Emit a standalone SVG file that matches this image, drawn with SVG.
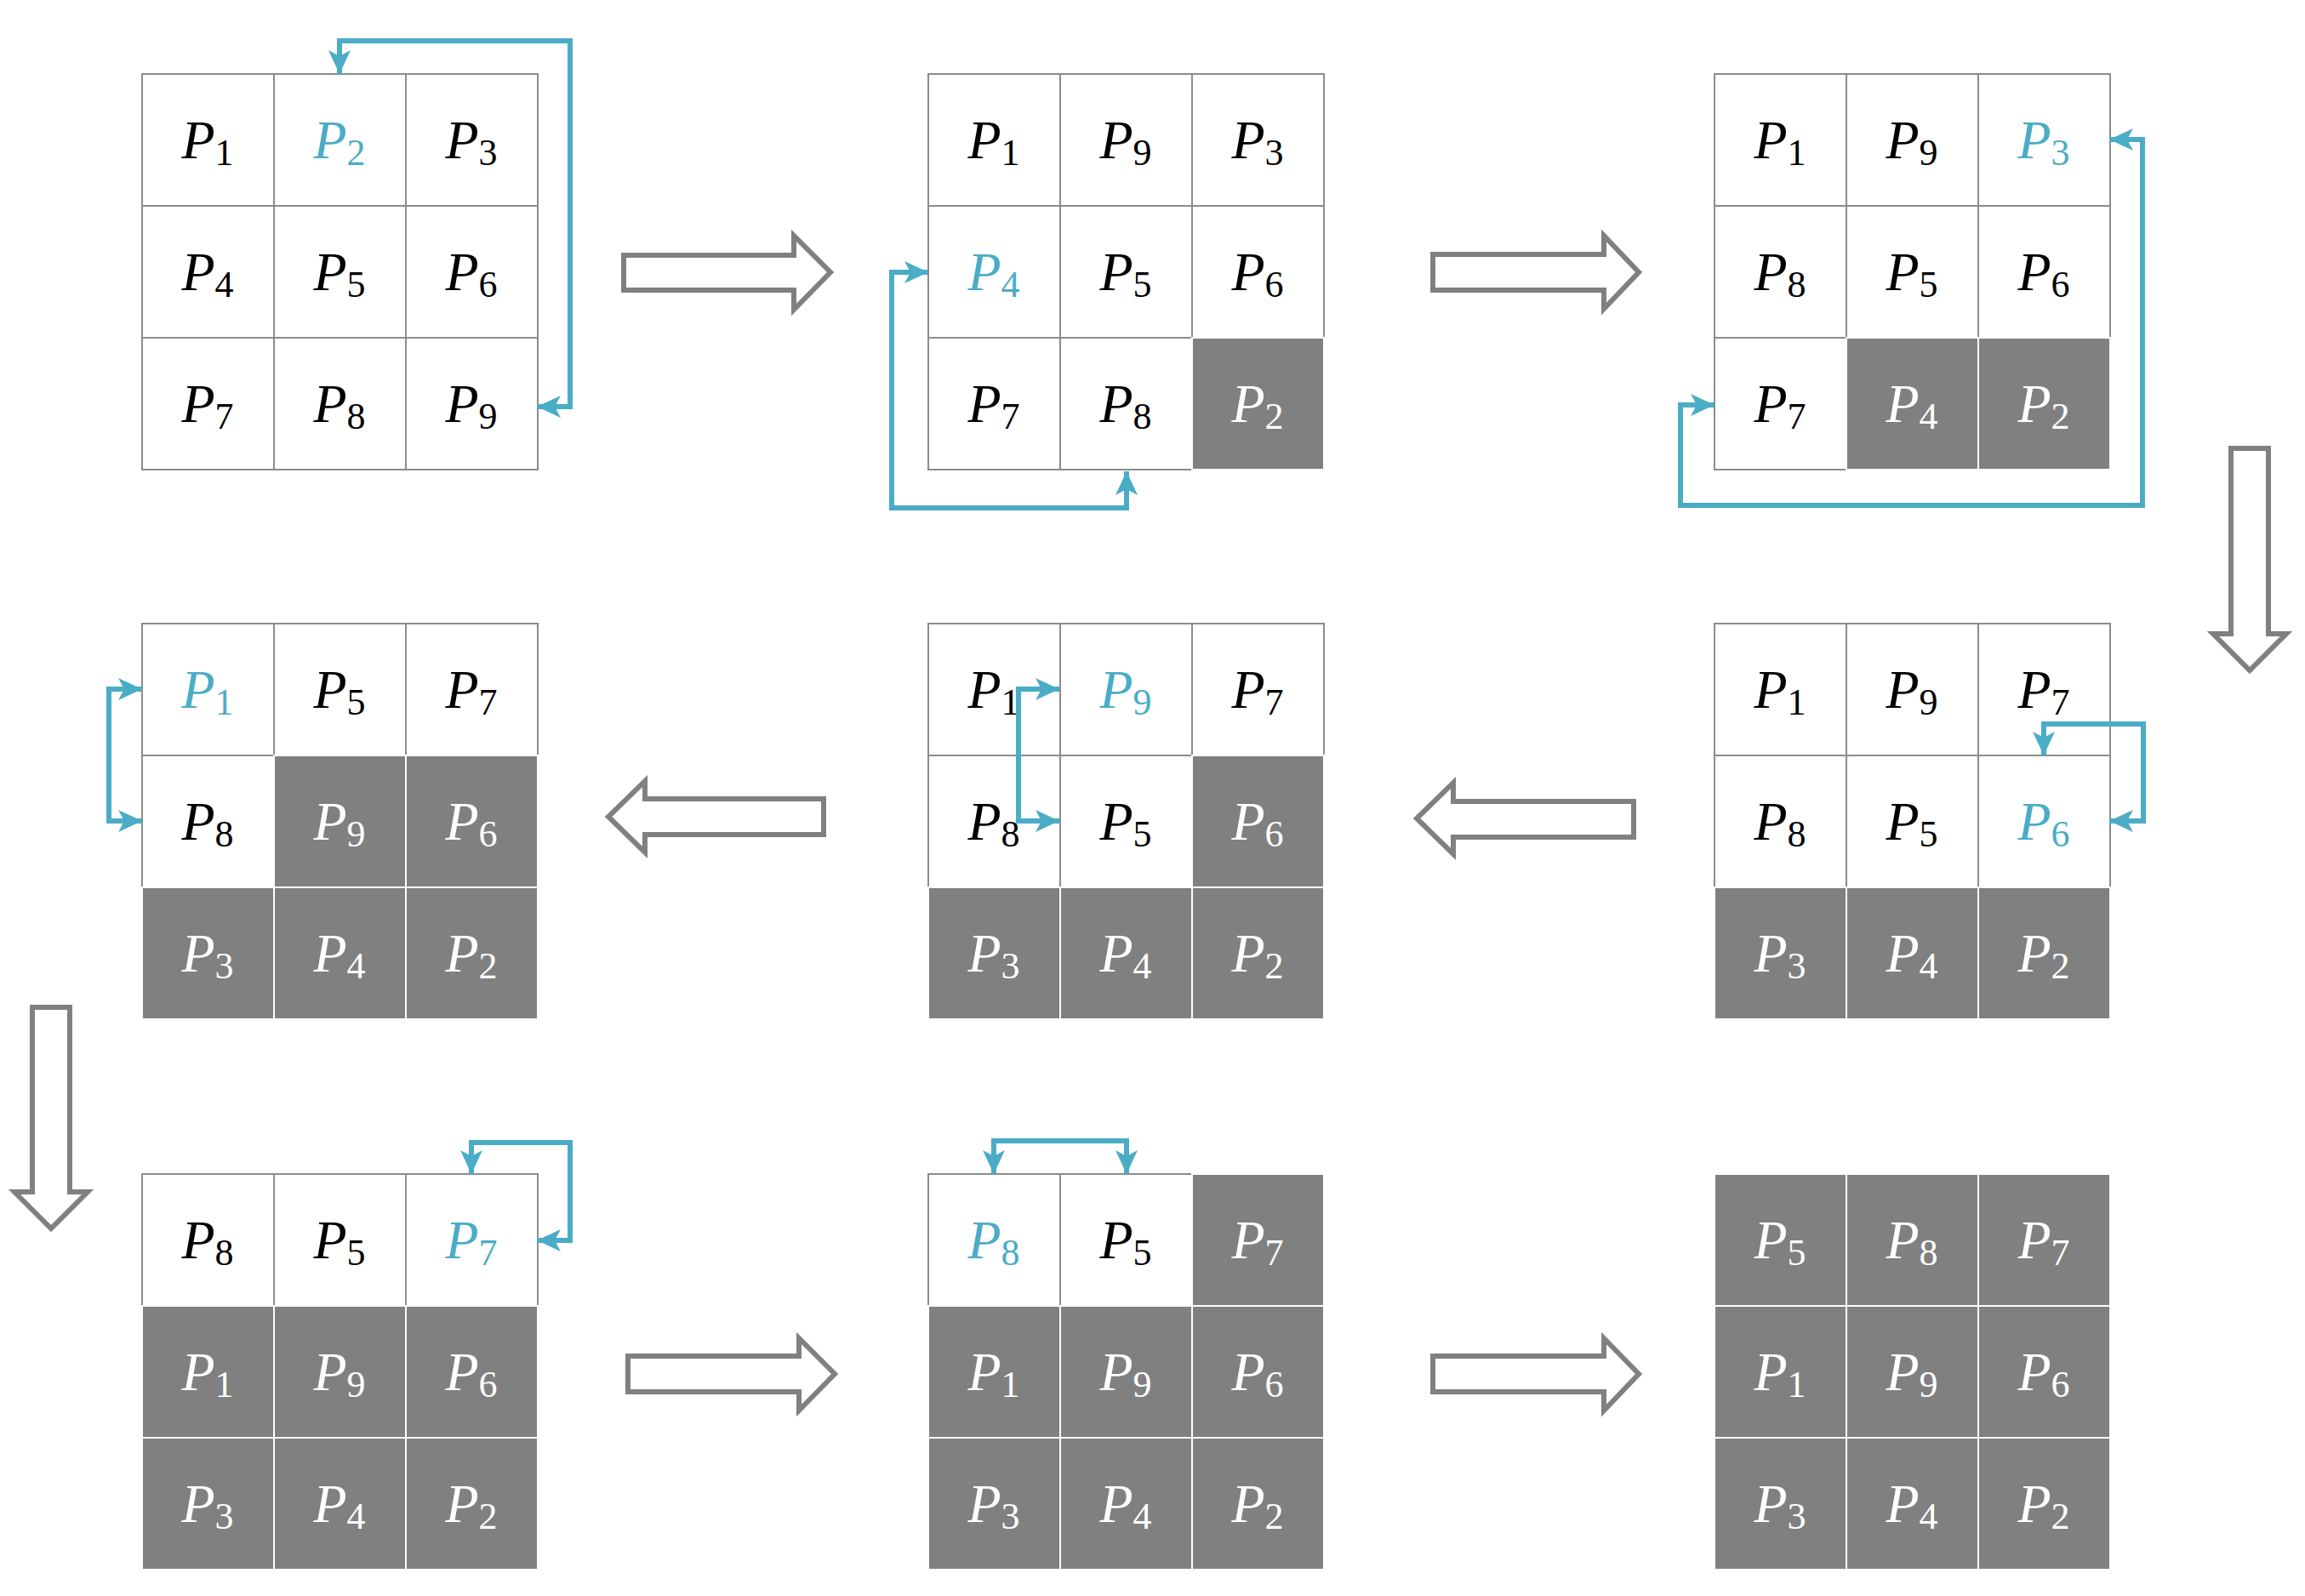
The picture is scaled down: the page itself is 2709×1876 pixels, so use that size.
<svg xmlns="http://www.w3.org/2000/svg" width="2709" height="1876" viewBox="0 0 2709 1876">
<style>
.c{fill:#fff;stroke:#8c8c8c;stroke-width:2}
.g{fill:#808080;stroke:#fff;stroke-width:2}
text{font-family:"Liberation Serif","Times New Roman",serif;font-size:64px;font-style:italic;text-anchor:middle}
.s{font-size:44px;font-style:normal}
.t{fill:#000}.w{fill:#fff}.b{fill:#4BACC6}
.blk{fill:#fff;stroke:#808080;stroke-width:6;stroke-linejoin:miter}
.con{fill:none;stroke:#4BACC6;stroke-width:6;marker-start:url(#ah);marker-end:url(#ah)}
</style>
<defs>
<marker id="ah" markerUnits="userSpaceOnUse" markerWidth="30" markerHeight="30" viewBox="0 0 30 30" refX="28" refY="15" orient="auto-start-reverse"><path d="M0,2 L28,15 L0,28 L7,15 Z" fill="#4BACC6"/></marker>
</defs>
<g id="grid1">
<rect class="c" x="167" y="87" width="155" height="155"/><rect class="c" x="322" y="87" width="155" height="155"/><rect class="c" x="477" y="87" width="155" height="155"/>
<rect class="c" x="167" y="242" width="155" height="155"/><rect class="c" x="322" y="242" width="155" height="155"/><rect class="c" x="477" y="242" width="155" height="155"/>
<rect class="c" x="167" y="397" width="155" height="155"/><rect class="c" x="322" y="397" width="155" height="155"/><rect class="c" x="477" y="397" width="155" height="155"/>
<text class="t" x="244" y="186">P<tspan class="s" dy="8">1</tspan></text><text class="b" x="399" y="186">P<tspan class="s" dy="8">2</tspan></text><text class="t" x="554" y="186">P<tspan class="s" dy="8">3</tspan></text>
<text class="t" x="244" y="341">P<tspan class="s" dy="8">4</tspan></text><text class="t" x="399" y="341">P<tspan class="s" dy="8">5</tspan></text><text class="t" x="554" y="341">P<tspan class="s" dy="8">6</tspan></text>
<text class="t" x="244" y="496">P<tspan class="s" dy="8">7</tspan></text><text class="t" x="399" y="496">P<tspan class="s" dy="8">8</tspan></text><text class="t" x="554" y="496">P<tspan class="s" dy="8">9</tspan></text>
</g>
<g id="grid2">
<rect class="c" x="1091" y="87" width="155" height="155"/><rect class="c" x="1246" y="87" width="155" height="155"/><rect class="c" x="1401" y="87" width="155" height="155"/>
<rect class="c" x="1091" y="242" width="155" height="155"/><rect class="c" x="1246" y="242" width="155" height="155"/><rect class="c" x="1401" y="242" width="155" height="155"/>
<rect class="c" x="1091" y="397" width="155" height="155"/><rect class="c" x="1246" y="397" width="155" height="155"/><rect class="g" x="1401" y="397" width="155" height="155"/>
<text class="t" x="1168" y="186">P<tspan class="s" dy="8">1</tspan></text><text class="t" x="1323" y="186">P<tspan class="s" dy="8">9</tspan></text><text class="t" x="1478" y="186">P<tspan class="s" dy="8">3</tspan></text>
<text class="b" x="1168" y="341">P<tspan class="s" dy="8">4</tspan></text><text class="t" x="1323" y="341">P<tspan class="s" dy="8">5</tspan></text><text class="t" x="1478" y="341">P<tspan class="s" dy="8">6</tspan></text>
<text class="t" x="1168" y="496">P<tspan class="s" dy="8">7</tspan></text><text class="t" x="1323" y="496">P<tspan class="s" dy="8">8</tspan></text><text class="w" x="1478" y="496">P<tspan class="s" dy="8">2</tspan></text>
</g>
<g id="grid3">
<rect class="c" x="2015" y="87" width="155" height="155"/><rect class="c" x="2170" y="87" width="155" height="155"/><rect class="c" x="2325" y="87" width="155" height="155"/>
<rect class="c" x="2015" y="242" width="155" height="155"/><rect class="c" x="2170" y="242" width="155" height="155"/><rect class="c" x="2325" y="242" width="155" height="155"/>
<rect class="c" x="2015" y="397" width="155" height="155"/><rect class="g" x="2170" y="397" width="155" height="155"/><rect class="g" x="2325" y="397" width="155" height="155"/>
<text class="t" x="2092" y="186">P<tspan class="s" dy="8">1</tspan></text><text class="t" x="2247" y="186">P<tspan class="s" dy="8">9</tspan></text><text class="b" x="2402" y="186">P<tspan class="s" dy="8">3</tspan></text>
<text class="t" x="2092" y="341">P<tspan class="s" dy="8">8</tspan></text><text class="t" x="2247" y="341">P<tspan class="s" dy="8">5</tspan></text><text class="t" x="2402" y="341">P<tspan class="s" dy="8">6</tspan></text>
<text class="t" x="2092" y="496">P<tspan class="s" dy="8">7</tspan></text><text class="w" x="2247" y="496">P<tspan class="s" dy="8">4</tspan></text><text class="w" x="2402" y="496">P<tspan class="s" dy="8">2</tspan></text>
</g>
<g id="grid4">
<rect class="c" x="2015" y="733" width="155" height="155"/><rect class="c" x="2170" y="733" width="155" height="155"/><rect class="c" x="2325" y="733" width="155" height="155"/>
<rect class="c" x="2015" y="888" width="155" height="155"/><rect class="c" x="2170" y="888" width="155" height="155"/><rect class="c" x="2325" y="888" width="155" height="155"/>
<rect class="g" x="2015" y="1043" width="155" height="155"/><rect class="g" x="2170" y="1043" width="155" height="155"/><rect class="g" x="2325" y="1043" width="155" height="155"/>
<text class="t" x="2092" y="832">P<tspan class="s" dy="8">1</tspan></text><text class="t" x="2247" y="832">P<tspan class="s" dy="8">9</tspan></text><text class="t" x="2402" y="832">P<tspan class="s" dy="8">7</tspan></text>
<text class="t" x="2092" y="987">P<tspan class="s" dy="8">8</tspan></text><text class="t" x="2247" y="987">P<tspan class="s" dy="8">5</tspan></text><text class="b" x="2402" y="987">P<tspan class="s" dy="8">6</tspan></text>
<text class="w" x="2092" y="1142">P<tspan class="s" dy="8">3</tspan></text><text class="w" x="2247" y="1142">P<tspan class="s" dy="8">4</tspan></text><text class="w" x="2402" y="1142">P<tspan class="s" dy="8">2</tspan></text>
</g>
<g id="grid5">
<rect class="c" x="1091" y="733" width="155" height="155"/><rect class="c" x="1246" y="733" width="155" height="155"/><rect class="c" x="1401" y="733" width="155" height="155"/>
<rect class="c" x="1091" y="888" width="155" height="155"/><rect class="c" x="1246" y="888" width="155" height="155"/><rect class="g" x="1401" y="888" width="155" height="155"/>
<rect class="g" x="1091" y="1043" width="155" height="155"/><rect class="g" x="1246" y="1043" width="155" height="155"/><rect class="g" x="1401" y="1043" width="155" height="155"/>
<text class="t" x="1168" y="832">P<tspan class="s" dy="8">1</tspan></text><text class="b" x="1323" y="832">P<tspan class="s" dy="8">9</tspan></text><text class="t" x="1478" y="832">P<tspan class="s" dy="8">7</tspan></text>
<text class="t" x="1168" y="987">P<tspan class="s" dy="8">8</tspan></text><text class="t" x="1323" y="987">P<tspan class="s" dy="8">5</tspan></text><text class="w" x="1478" y="987">P<tspan class="s" dy="8">6</tspan></text>
<text class="w" x="1168" y="1142">P<tspan class="s" dy="8">3</tspan></text><text class="w" x="1323" y="1142">P<tspan class="s" dy="8">4</tspan></text><text class="w" x="1478" y="1142">P<tspan class="s" dy="8">2</tspan></text>
</g>
<g id="grid6">
<rect class="c" x="167" y="733" width="155" height="155"/><rect class="c" x="322" y="733" width="155" height="155"/><rect class="c" x="477" y="733" width="155" height="155"/>
<rect class="c" x="167" y="888" width="155" height="155"/><rect class="g" x="322" y="888" width="155" height="155"/><rect class="g" x="477" y="888" width="155" height="155"/>
<rect class="g" x="167" y="1043" width="155" height="155"/><rect class="g" x="322" y="1043" width="155" height="155"/><rect class="g" x="477" y="1043" width="155" height="155"/>
<text class="b" x="244" y="832">P<tspan class="s" dy="8">1</tspan></text><text class="t" x="399" y="832">P<tspan class="s" dy="8">5</tspan></text><text class="t" x="554" y="832">P<tspan class="s" dy="8">7</tspan></text>
<text class="t" x="244" y="987">P<tspan class="s" dy="8">8</tspan></text><text class="w" x="399" y="987">P<tspan class="s" dy="8">9</tspan></text><text class="w" x="554" y="987">P<tspan class="s" dy="8">6</tspan></text>
<text class="w" x="244" y="1142">P<tspan class="s" dy="8">3</tspan></text><text class="w" x="399" y="1142">P<tspan class="s" dy="8">4</tspan></text><text class="w" x="554" y="1142">P<tspan class="s" dy="8">2</tspan></text>
</g>
<g id="grid7">
<rect class="c" x="167" y="1380" width="155" height="155"/><rect class="c" x="322" y="1380" width="155" height="155"/><rect class="c" x="477" y="1380" width="155" height="155"/>
<rect class="g" x="167" y="1535" width="155" height="155"/><rect class="g" x="322" y="1535" width="155" height="155"/><rect class="g" x="477" y="1535" width="155" height="155"/>
<rect class="g" x="167" y="1690" width="155" height="155"/><rect class="g" x="322" y="1690" width="155" height="155"/><rect class="g" x="477" y="1690" width="155" height="155"/>
<text class="t" x="244" y="1479">P<tspan class="s" dy="8">8</tspan></text><text class="t" x="399" y="1479">P<tspan class="s" dy="8">5</tspan></text><text class="b" x="554" y="1479">P<tspan class="s" dy="8">7</tspan></text>
<text class="w" x="244" y="1634">P<tspan class="s" dy="8">1</tspan></text><text class="w" x="399" y="1634">P<tspan class="s" dy="8">9</tspan></text><text class="w" x="554" y="1634">P<tspan class="s" dy="8">6</tspan></text>
<text class="w" x="244" y="1789">P<tspan class="s" dy="8">3</tspan></text><text class="w" x="399" y="1789">P<tspan class="s" dy="8">4</tspan></text><text class="w" x="554" y="1789">P<tspan class="s" dy="8">2</tspan></text>
</g>
<g id="grid8">
<rect class="c" x="1091" y="1380" width="155" height="155"/><rect class="c" x="1246" y="1380" width="155" height="155"/><rect class="g" x="1401" y="1380" width="155" height="155"/>
<rect class="g" x="1091" y="1535" width="155" height="155"/><rect class="g" x="1246" y="1535" width="155" height="155"/><rect class="g" x="1401" y="1535" width="155" height="155"/>
<rect class="g" x="1091" y="1690" width="155" height="155"/><rect class="g" x="1246" y="1690" width="155" height="155"/><rect class="g" x="1401" y="1690" width="155" height="155"/>
<text class="b" x="1168" y="1479">P<tspan class="s" dy="8">8</tspan></text><text class="t" x="1323" y="1479">P<tspan class="s" dy="8">5</tspan></text><text class="w" x="1478" y="1479">P<tspan class="s" dy="8">7</tspan></text>
<text class="w" x="1168" y="1634">P<tspan class="s" dy="8">1</tspan></text><text class="w" x="1323" y="1634">P<tspan class="s" dy="8">9</tspan></text><text class="w" x="1478" y="1634">P<tspan class="s" dy="8">6</tspan></text>
<text class="w" x="1168" y="1789">P<tspan class="s" dy="8">3</tspan></text><text class="w" x="1323" y="1789">P<tspan class="s" dy="8">4</tspan></text><text class="w" x="1478" y="1789">P<tspan class="s" dy="8">2</tspan></text>
</g>
<g id="grid9">
<rect class="g" x="2015" y="1380" width="155" height="155"/><rect class="g" x="2170" y="1380" width="155" height="155"/><rect class="g" x="2325" y="1380" width="155" height="155"/>
<rect class="g" x="2015" y="1535" width="155" height="155"/><rect class="g" x="2170" y="1535" width="155" height="155"/><rect class="g" x="2325" y="1535" width="155" height="155"/>
<rect class="g" x="2015" y="1690" width="155" height="155"/><rect class="g" x="2170" y="1690" width="155" height="155"/><rect class="g" x="2325" y="1690" width="155" height="155"/>
<text class="w" x="2092" y="1479">P<tspan class="s" dy="8">5</tspan></text><text class="w" x="2247" y="1479">P<tspan class="s" dy="8">8</tspan></text><text class="w" x="2402" y="1479">P<tspan class="s" dy="8">7</tspan></text>
<text class="w" x="2092" y="1634">P<tspan class="s" dy="8">1</tspan></text><text class="w" x="2247" y="1634">P<tspan class="s" dy="8">9</tspan></text><text class="w" x="2402" y="1634">P<tspan class="s" dy="8">6</tspan></text>
<text class="w" x="2092" y="1789">P<tspan class="s" dy="8">3</tspan></text><text class="w" x="2247" y="1789">P<tspan class="s" dy="8">4</tspan></text><text class="w" x="2402" y="1789">P<tspan class="s" dy="8">2</tspan></text>
</g>
<g id="connectors">
<path class="blk" d="M733,300 L933,300 L933,277 L976,320 L933,364 L933,341 L733,341 Z"/>
<path class="blk" d="M1684,299 L1885,299 L1885,277 L1926,320 L1885,363 L1885,341 L1684,341 Z"/>
<path class="blk" d="M2622,527 L2666,527 L2666,745 L2687,745 L2644,788 L2601,745 L2622,745 Z"/>
<path class="blk" d="M1920,942 L1708,942 L1708,920 L1665,962 L1708,1004 L1708,984 L1920,984 Z"/>
<path class="blk" d="M968,939 L758,939 L758,918 L715,960 L758,1002 L758,981 L968,981 Z"/>
<path class="blk" d="M38,1184 L82,1184 L82,1401 L103,1401 L60,1444 L17,1401 L38,1401 Z"/>
<path class="blk" d="M738,1594 L939,1594 L939,1573 L981,1615 L939,1658 L939,1636 L738,1636 Z"/>
<path class="blk" d="M1684,1594 L1885,1594 L1885,1573 L1926,1615 L1885,1658 L1885,1636 L1684,1636 Z"/>
<path class="con" d="M399,87 L399,48 L670,48 L670,478 L631,478"/>
<path class="con" d="M1091,320 L1048,320 L1048,597 L1324,597 L1324,554"/>
<path class="con" d="M2479,164 L2518,164 L2518,594 L1975,594 L1975,476 L2015,476"/>
<path class="con" d="M2402,888 L2402,851 L2519,851 L2519,965 L2479,965"/>
<path class="con" d="M1245,810 L1197,810 L1197,965 L1245,965"/>
<path class="con" d="M167,810 L128,810 L128,965 L167,965"/>
<path class="con" d="M554,1380 L554,1343 L670,1343 L670,1458 L631,1458"/>
<path class="con" d="M1168,1380 L1168,1341 L1324,1341 L1324,1380"/>
</g>
</svg>
